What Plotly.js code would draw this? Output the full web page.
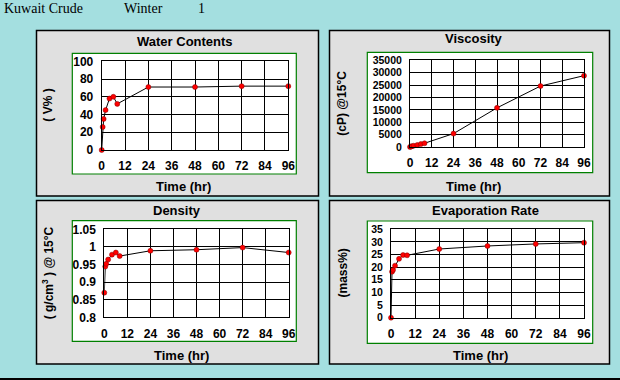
<!DOCTYPE html>
<html>
<head>
<meta charset="utf-8">
<script src="https://cdn.plot.ly/plotly-3.0.1.min.js"></script>
<style>html,body{margin:0;padding:0;background:#A4DFE0;}#chart{width:620px;height:380px;}</style>
</head>
<body>
<div id="chart"></div>
<script>
// ---- data ----
var timeHr = [0, 0.5, 1, 2, 4, 6, 8, 24, 48, 72, 96];
var waterContent = [0, 26, 35, 45, 58, 60, 52, 71, 71, 72, 72];
var viscosity = [30, 200, 300, 500, 800, 1200, 1500, 5400, 15800, 24600, 28800];
var density = [0.870, 0.944, 0.952, 0.964, 0.978, 0.984, 0.974, 0.989, 0.992, 0.998, 0.984];
var evaporation = [0, 18.2, 18.9, 20.6, 23.3, 24.8, 24.7, 27.2, 28.4, 29.2, 29.7];
var xTicks = [0, 12, 24, 36, 48, 60, 72, 84, 96];
var densityTicks = [0.8, 0.85, 0.9, 0.95, 1, 1.05];
var densityTickText = ['0.8', '0.85', '0.9', '0.95', '1', '1.05'];
var panelTitles = ['Water Contents', 'Viscosity', 'Density', 'Evaporation Rate'];
var yTitles = ['( V% )', '(cP) @15°C', '( g/cm<sup>3</sup> ) @ 15°C', '(mass%)'];
var headerText = 'Kuwait Crude';
var seasonText = 'Winter';
var caseText = '1';

// ---- layout helpers ----
var W = 620, H = 380;
function px(x) { return x / W; }
function py(y) { return 1 - y / H; }

var FONT = 'Liberation Sans, Arial, sans-serif';
function tf(sz) { return {family: FONT, size: sz, color: '#000', weight: 'bold'}; }

var plots = [
  {x: [101.7, 288.3], y: [61.3, 150], panel: [36.5, 30.5, 318.5, 196], box: [72.3, 53.3, 296.3, 174],
   yr: [0, 100], dt: 20, title: [185, 41], xt: [183, 186], ytl: 48, yfs: 12},
  {x: [410, 584], y: [60.3, 147], panel: [329.5, 30.5, 609.5, 196], box: [367.3, 52.3, 592.7, 172.7],
   yr: [0, 35000], dt: 5000, title: [474, 39], xt: [473, 186], ytl: 342, yfs: 10.5},
  {x: [104.3, 288.7], y: [229.3, 317.3], panel: [36.5, 200.5, 318.5, 364], box: [72.3, 220.7, 296.3, 341.3],
   yr: [0.8, 1.05], dt: 0.05, title: [177, 210], xt: [181, 355], ytl: 48, yfs: 12},
  {x: [391, 584], y: [229.3, 317.7], panel: [329.5, 200.5, 609.5, 364], box: [367.3, 221, 592.7, 343.3],
   yr: [0, 35], dt: 5, title: [485, 210], xt: [480, 355], ytl: 342, yfs: 10.5}
];
var ySeries = [waterContent, viscosity, density, evaporation];

var data = [];
var layout = {
  width: W, height: H,
  margin: {l: 0, r: 0, t: 0, b: 0},
  paper_bgcolor: '#A4DFE0',
  plot_bgcolor: '#FFFFFF',
  showlegend: false,
  shapes: [],
  annotations: []
};

plots.forEach(function (p, i) {
  var n = i === 0 ? '' : String(i + 1);
  data.push({
    x: timeHr, y: ySeries[i], type: 'scatter', mode: 'lines+markers',
    xaxis: 'x' + n, yaxis: 'y' + n,
    line: {color: '#000000', width: 1},
    marker: {color: '#FF0000', size: 5, line: {color: '#800000', width: 0.5}},
    cliponaxis: false
  });
  var xa = {
    domain: [px(p.x[0]), px(p.x[1])], range: [0, 96], anchor: 'y' + n,
    tickmode: 'array', tickvals: xTicks, ticks: '', ticklabelstandoff: 5,
    showgrid: true, gridcolor: '#000000', gridwidth: 1,
    showline: true, linecolor: '#000000', linewidth: 1, mirror: true,
    zeroline: false, tickfont: tf(12), fixedrange: true
  };
  var ya = {
    domain: [py(p.y[1]), py(p.y[0])], range: p.yr, anchor: 'x' + n,
    dtick: p.dt, ticks: '', ticklabelstandoff: 5,
    showgrid: true, gridcolor: '#000000', gridwidth: 1,
    showline: true, linecolor: '#000000', linewidth: 1, mirror: true,
    zeroline: false, tickfont: tf(p.yfs), fixedrange: true
  };
  if (i === 2) { ya.tickmode = 'array'; ya.tickvals = densityTicks; ya.ticktext = densityTickText; }
  if (i === 1) { ya.tickformat = 'd'; }
  layout['xaxis' + n] = xa;
  layout['yaxis' + n] = ya;

  layout.shapes.push({type: 'rect', xref: 'paper', yref: 'paper', layer: 'below',
    x0: px(p.panel[0]), x1: px(p.panel[2]), y0: py(p.panel[3]), y1: py(p.panel[1]),
    fillcolor: '#E0E0E0', line: {color: '#000000', width: 1.5}});
  layout.shapes.push({type: 'rect', xref: 'paper', yref: 'paper', layer: 'below',
    x0: px(p.box[0]), x1: px(p.box[2]), y0: py(p.box[3]), y1: py(p.box[1]),
    fillcolor: '#FFFFFF', line: {color: '#008000', width: 1.2}});

  layout.annotations.push({text: '<b>' + panelTitles[i] + '</b>', xref: 'paper', yref: 'paper',
    x: px(p.title[0]), y: py(p.title[1]), xanchor: 'center', yanchor: 'middle', showarrow: false,
    font: {family: FONT, size: 13, color: '#000'}});
  layout.annotations.push({text: '<b>Time (hr)</b>', xref: 'paper', yref: 'paper',
    x: px(p.xt[0]), y: py(p.xt[1]), xanchor: 'center', yanchor: 'middle', showarrow: false,
    font: {family: FONT, size: 13, color: '#000'}});
  layout.annotations.push({text: '<b>' + yTitles[i] + '</b>', xref: 'paper', yref: 'paper',
    x: px(p.ytl), y: py((p.y[0] + p.y[1]) / 2), xanchor: 'center', yanchor: 'middle', showarrow: false,
    textangle: -90, font: {family: FONT, size: 12, color: '#000'}});
});

layout.shapes.push({type: 'line', xref: 'paper', yref: 'paper', x0: 0, x1: 1, y0: py(379), y1: py(379),
  line: {color: '#000000', width: 2}});

var serif = {family: 'Liberation Serif, Times New Roman, serif', size: 14, color: '#000'};
layout.annotations.push({text: headerText, xref: 'paper', yref: 'paper', x: px(2), y: py(9),
  xanchor: 'left', yanchor: 'middle', showarrow: false, font: serif});
layout.annotations.push({text: seasonText, xref: 'paper', yref: 'paper', x: px(122), y: py(9),
  xanchor: 'left', yanchor: 'middle', showarrow: false, font: serif});
layout.annotations.push({text: caseText, xref: 'paper', yref: 'paper', x: px(196), y: py(9),
  xanchor: 'left', yanchor: 'middle', showarrow: false, font: serif});

Plotly.newPlot('chart', data, layout, {displayModeBar: false, staticPlot: true});
</script>
</body>
</html>
